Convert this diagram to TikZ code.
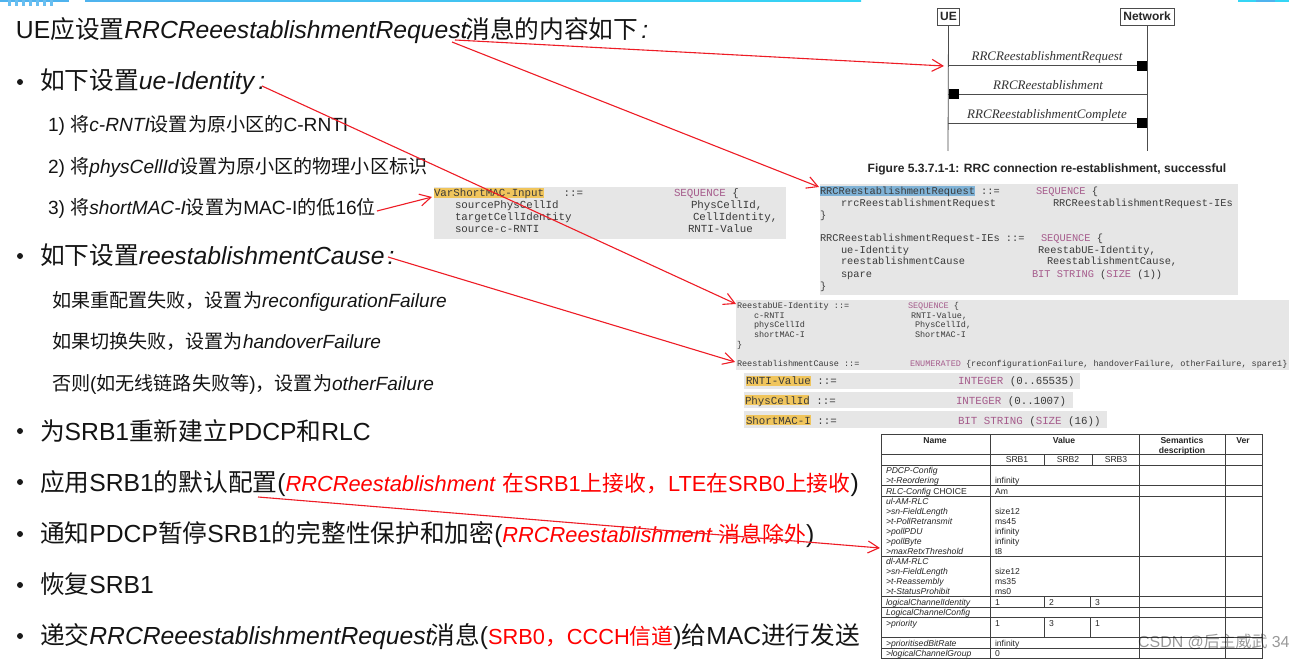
\documentclass[tikz,border=0pt]{standalone}
\usepackage{fontspec}
\setmainfont{Liberation Sans}
\setmonofont{Liberation Mono}
\newfontfamily\cjk{Noto Sans CJK SC}
\newfontfamily\serifmsg{Liberation Serif}
\definecolor{codebg}{HTML}{E6E6E6}
\definecolor{hl}{HTML}{F0C55C}
\definecolor{hlb}{HTML}{7FB2D6}
\definecolor{kw}{HTML}{A65C8C}
\definecolor{code}{HTML}{3A3A3A}
\definecolor{arrowred}{HTML}{EE1C25}
\definecolor{barblue}{HTML}{4FB3EE}
\definecolor{barcyan}{HTML}{35D5F5}
\newcommand{\C}[1]{{\cjk #1}}
\newcommand{\I}[1]{\textit{#1}}
\newcommand{\K}[1]{\textcolor{kw}{#1}}
\newcommand{\R}[1]{{\fontsize{21.8}{22}\selectfont\textcolor{red}{#1}}}
\newcommand{\CL}{\hspace{3pt}\I{:}}
\usetikzlibrary{arrows.meta}
\tikzset{
  x=1pt,y=-1pt,
  txt/.style={anchor=base west,inner sep=0pt,outer sep=0pt,text=black!92},
  h1/.style={txt,font=\fontsize{24.7}{24.7}\selectfont},
  h2/.style={txt,font=\fontsize{24.7}{24.7}\selectfont},
  h3/.style={txt,font=\fontsize{19.1}{19.1}\selectfont},
  bullet/.style={circle,fill=black!90,inner sep=0pt,minimum size=6pt},
  redarrow/.style={draw=arrowred,line width=1.1pt,-{Straight Barb[length=11pt,width=12pt,line width=1.1pt]}},
  codebox/.style={fill=codebg,draw=none},
  cda/.style={anchor=base west,inner sep=0pt,outer sep=0pt,text=code,font=\ttfamily\fontsize{10.8}{11}\selectfont},
  cd/.style={anchor=base west,inner sep=0pt,outer sep=0pt,text=code,font=\ttfamily\fontsize{10.33}{11}\selectfont},
  cds/.style={anchor=base west,inner sep=0pt,outer sep=0pt,text=code,font=\ttfamily\fontsize{8.5}{9}\selectfont},
  lane/.style={draw=black!70,line width=0.8pt},
  hdr/.style={draw=black!70,fill=white,line width=0.9pt,inner sep=0pt,font=\bfseries\fontsize{12}{12}\selectfont,text=black!85,minimum height=17pt,anchor=center},
  msg/.style={font=\serifmsg\itshape\fontsize{13}{13}\selectfont,inner sep=0pt,text=black!80,anchor=base},
  tick/.style={fill=black,draw=none},
  tb/.style={anchor=base west,inner sep=0pt,outer sep=0pt,text=black!85,font=\fontsize{8.6}{8.6}\selectfont},
  thd/.style={anchor=base,inner sep=0pt,outer sep=0pt,text=black!85,font=\bfseries\fontsize{8.6}{8.6}\selectfont},
  rule/.style={draw=black!75,line width=0.7pt},
}
\begin{document}
\begin{tikzpicture}
\useasboundingbox (0,0) rectangle (1289,660);
\fill[white] (0,0) rectangle (1289,660);
% top strips
\fill[barblue] (0,0) rectangle (69,1.6);
\shade[left color=barblue,right color=barcyan] (85,0) rectangle (861,1.8);
\foreach \x in {7.5,14.5,21.5,28.5,35.5,42.5,49.5}{\fill[barblue!85] (\x,0) rectangle (\x+3.5,6);}
\fill[barcyan] (1238,0) rectangle (1289,2);
\fill[barblue] (1256,0) rectangle (1275,2);

% code boxes
\fill[codebox] (434,187) rectangle (786,239);
\fill[hl] (434,188.5) rectangle (544,198);
\fill[codebox] (820,184) rectangle (1238,295);
\fill[hlb] (820,186) rectangle (975,196);
\fill[codebox] (736,300) rectangle (1289,370);
\fill[codebox] (744,373) rectangle (1080,389);
\fill[hl] (746,376) rectangle (811,386);
\fill[codebox] (744,392) rectangle (1073,408);
\fill[hl] (745,395) rectangle (809,405);
\fill[codebox] (744,411) rectangle (1107,428);
\fill[hl] (746,415) rectangle (811,425);

% left text
\node[h1] (t0) at (16,39) {UE\C{应设置}\I{RRCReeestablishmentRequest}\hspace{-3pt}\C{消息的内容如下}\CL};
\node[bullet] (b1) at (20,82) {};
\node[h2] (t1) at (40,90) {\C{如下设置}\I{ue-Identity}\CL};
\node[h3] (s1) at (48,132) {1) \C{将}\I{c-RNTI}\C{设置为原小区的}C-RNTI};
\node[h3] (s2) at (48,174) {2) \C{将}\I{physCellId}\C{设置为原小区的物理小区标识}};
\node[h3] (s3) at (48,215) {3) \C{将}\I{shortMAC-I}\C{设置为}MAC-I\C{的低}16\C{位}};
\node[bullet] (b2) at (20,256) {};
\node[h2] (t2) at (40,264) {\C{如下设置}\I{reestablishmentCause}\CL};
\node[h3] (c1) at (52,307) {\C{如果重配置失败，设置为}\I{reconfigurationFailure}};
\node[h3] (c2) at (52,348) {\C{如果切换失败，设置为}\I{handoverFailure}};
\node[h3] (c3) at (52,390) {\C{否则}(\C{如无线链路失败等})\C{，设置为}\I{otherFailure}};
\node[bullet] (b3) at (20,431) {};
\node[h2] (t3) at (40,440) {\C{为}SRB1\C{重新建立}PDCP\C{和}RLC};
\node[bullet] (b4) at (20,482) {};
\node[h2] (t4) at (40,491) {\C{应用}SRB1\C{的默认配置}(\R{\I{RRCReestablishment} \C{在}SRB1\C{上接收，}LTE\C{在}SRB0\C{上接收}})};
\node[bullet] (b5) at (20,534) {};
\node[h2] (t5) at (40,542) {\C{通知}PDCP\C{暂停}SRB1\C{的完整性保护和加密}(\R{\I{RRCReestablishment} \C{消息除外}})};
\node[bullet] (b6) at (20,585) {};
\node[h2] (t6) at (40,593) {\C{恢复}SRB1};
\node[bullet] (b7) at (20,636) {};
\node[h2] (t7) at (40,644) {\C{递交}\I{RRCReeestablishmentRequest}\hspace{-3pt}\C{消息}(\R{SRB0\C{，}CCCH\C{信道}})\C{给}MAC\C{进行发送}};

% code 1
\node[cda] (v1) at (434,197) {VarShortMAC-Input\ \ \ ::=};
\node[cda] (v1b) at (674,197) {\K{SEQUENCE} \{};
\node[cda] (v2) at (455,209) {sourcePhysCellId};
\node[cda] (v2b) at (691,209) {PhysCellId,};
\node[cda] (v3) at (455,221) {targetCellIdentity};
\node[cda] (v3b) at (693,221) {CellIdentity,};
\node[cda] (v4) at (455,233) {source-c-RNTI};
\node[cda] (v4b) at (688,233) {RNTI-Value};

% code 2
\node[cd] (q1) at (820,195) {RRCReestablishmentRequest ::=};
\node[cd] (q1b) at (1036,195) {\K{SEQUENCE} \{};
\node[cd] (q2) at (841,207) {rrcReestablishmentRequest};
\node[cd] (q2b) at (1053,207) {RRCReestablishmentRequest-IEs};
\node[cd] (q3) at (820,219) {\}};
\node[cd] (q4) at (820,242) {RRCReestablishmentRequest-IEs ::=};
\node[cd] (q4b) at (1041,242) {\K{SEQUENCE} \{};
\node[cd] (q5) at (841,254) {ue-Identity};
\node[cd] (q5b) at (1038,254) {ReestabUE-Identity,};
\node[cd] (q6) at (841,265) {reestablishmentCause};
\node[cd] (q6b) at (1047,265) {ReestablishmentCause,};
\node[cd] (q7) at (841,277) {spare};
\node[cd] (q7b) at (1032,277) {\K{BIT STRING} (\K{SIZE} (1))};
\node[cd] (q8) at (820,289) {\}};

% code 3
\node[cds] (r1) at (737,308) {ReestabUE-Identity ::=};
\node[cds] (r1b) at (908,308) {\K{SEQUENCE} \{};
\node[cds] (r2) at (754,318) {c-RNTI};
\node[cds] (r2b) at (911,318) {RNTI-Value,};
\node[cds] (r3) at (754,327) {physCellId};
\node[cds] (r3b) at (915,327) {PhysCellId,};
\node[cds] (r4) at (754,337) {shortMAC-I};
\node[cds] (r4b) at (915,337) {ShortMAC-I};
\node[cds] (r5) at (737,347) {\}};
\node[cds] (r6) at (737,366) {ReestablishmentCause ::=};
\node[cds] (r6b) at (910,366) {\K{ENUMERATED} \{reconfigurationFailure, handoverFailure, otherFailure, spare1\}};

% code 4
\node[cda] (i1) at (746,384) {RNTI-Value ::=};
\node[cda] (i1b) at (958,384) {\K{INTEGER} (0..65535)};
\node[cda] (i2) at (745,404) {PhysCellId ::=};
\node[cda] (i2b) at (956,404) {\K{INTEGER} (0..1007)};
\node[cda] (i3) at (746,424) {ShortMAC-I ::=};
\node[cda] (i3b) at (958,424) {\K{BIT STRING} (\K{SIZE} (16))};

% sequence chart
\node[hdr,minimum width=22pt] (ue) at (948.5,16.5) {UE};
\node[hdr,minimum width=54pt] (nw) at (1147,16.5) {Network};
\coordinate (ueb) at (948,151);
\coordinate (nwb) at (1147,151);
\draw[lane] (ue.south) -- (ueb);
\draw[lane] (nw.south) -- (nwb);
\coordinate (m1a) at (948,65.5); \coordinate (m1b) at (1147,65.5);
\coordinate (m2a) at (948,94.5); \coordinate (m2b) at (1147,94.5);
\coordinate (m3a) at (948,123); \coordinate (m3b) at (1147,123);
\draw[lane] (m1a) -- (m1b);
\draw[lane] (m2a) -- (m2b);
\draw[lane] (m3a) -- (m3b);
\fill[tick] (1137,61) rectangle (1147,71);
\fill[tick] (948.5,89) rectangle (959,99);
\fill[tick] (1137,118) rectangle (1147,128);
\node[msg] (l1) at (1047,61) {RRCReestablishmentRequest};
\node[msg] (l2) at (1048,90) {RRCReestablishment};
\node[msg] (l3) at (1047,119) {RRCReestablishmentComplete};
\node[anchor=base,inner sep=0pt,font=\bfseries\fontsize{12.05}{12}\selectfont,text=black!85] (fig) at (1047,173) {Figure 5.3.7.1-1: RRC connection re-establishment, successful};

% table
\draw[rule] (881,434) rectangle (1262,658);
\foreach \xx in {990,1139,1225}{\draw[rule] (\xx,434) -- (\xx,658);}
\foreach \yy in {454.5,465,485.5,496,556,596.7,607,617,637,648}{\draw[rule] (881,\yy) -- (1262,\yy);}
\draw[rule] (1044,454.5) -- (1044,465);
\draw[rule] (1092,454.5) -- (1092,465);
\draw[rule] (1044,596.7) -- (1044,607);
\draw[rule] (1090,596.7) -- (1090,607);
\draw[rule] (1044,617) -- (1044,637);
\draw[rule] (1090,617) -- (1090,637);
\node[thd] (a1) at (935,443) {Name};
\node[thd] (a2) at (1064,443) {Value};
\node[thd] (a3) at (1182,443) {Semantics};
\node[thd] (a3b) at (1182,453) {description};
\node[thd] (a4) at (1243,443) {Ver};
\node[tb,anchor=base] (a5) at (1017,462.5) {SRB1};
\node[tb,anchor=base] (a6) at (1068,462.5) {SRB2};
\node[tb,anchor=base] (a7) at (1116,462.5) {SRB3};
\node[tb] (n1) at (886,473) {\I{PDCP-Config}};
\node[tb] (n2) at (886,483) {\I{>t-Reordering}};
\node[tb] (n3) at (995,483) {infinity};
\node[tb] (n4) at (886,494) {\I{RLC-Config} CHOICE};
\node[tb] (n5) at (995,494) {Am};
\node[tb] (n6) at (886,504) {\I{ul-AM-RLC}};
\node[tb] (n7) at (886,514) {\I{>sn-FieldLength}};
\node[tb] (n8) at (995,514) {size12};
\node[tb] (n9) at (886,524) {\I{>t-PollRetransmit}};
\node[tb] (n10) at (995,524) {ms45};
\node[tb] (n11) at (886,534) {\I{>pollPDU}};
\node[tb] (n12) at (995,534) {infinity};
\node[tb] (n13) at (886,544) {\I{>pollByte}};
\node[tb] (n14) at (995,544) {infinity};
\node[tb] (n15) at (886,554) {\I{>maxRetxThreshold}};
\node[tb] (n16) at (995,554) {t8};
\node[tb] (n17) at (886,564) {\I{dl-AM-RLC}};
\node[tb] (n18) at (886,574) {\I{>sn-FieldLength}};
\node[tb] (n19) at (995,574) {size12};
\node[tb] (n20) at (886,584) {\I{>t-Reassembly}};
\node[tb] (n21) at (995,584) {ms35};
\node[tb] (n22) at (886,594) {\I{>t-StatusProhibit}};
\node[tb] (n23) at (995,594) {ms0};
\node[tb] (n24) at (886,605) {\I{logicalChannelIdentity}};
\node[tb] (n25) at (995,605) {1};
\node[tb] (n26) at (1049,605) {2};
\node[tb] (n27) at (1095,605) {3};
\node[tb] (n28) at (886,615) {\I{LogicalChannelConfig}};
\node[tb] (n29) at (886,626) {\I{>priority}};
\node[tb] (n30) at (995,626) {1};
\node[tb] (n31) at (1049,626) {3};
\node[tb] (n32) at (1095,626) {1};
\node[tb] (n33) at (886,646) {\I{>prioritisedBitRate}};
\node[tb] (n34) at (995,646) {infinity};
\node[tb] (n35) at (886,656) {\I{>logicalChannelGroup}};
\node[tb] (n36) at (995,656) {0};

% watermark
\node[anchor=base west,inner sep=0pt,font=\fontsize{15.9}{16}\selectfont,text=black,opacity=0.4] (wm) at (1138,647.5) {CSDN @\C{后主威武} 34};

% arrows
\coordinate (f1) at (455,40);
\coordinate (e1) at (944,66);
\coordinate (f2) at (452,42);
\coordinate (e2) at (819,187);
\coordinate (f3) at (262,86);
\coordinate (e3) at (736,304);
\coordinate (f4) at (377,211);
\coordinate (e4) at (432,197);
\coordinate (f5) at (388,257);
\coordinate (e5) at (735,362);
\coordinate (f6) at (258,497);
\coordinate (e6) at (880,548);
\draw[redarrow] (f1) -- (e1);
\draw[redarrow] (f2) -- (e2);
\draw[redarrow] (f3) -- (e3);
\draw[redarrow] (f4) -- (e4);
\draw[redarrow] (f5) -- (e5);
\draw[redarrow] (f6) -- (e6);
\end{tikzpicture}
\end{document}
